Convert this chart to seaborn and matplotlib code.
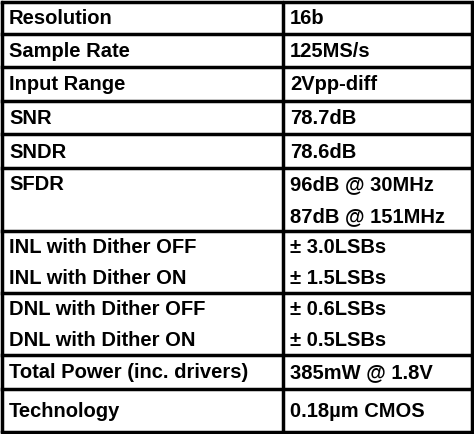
import matplotlib
matplotlib.use("Agg")
import matplotlib.pyplot as plt
import seaborn as sns

# === Table content (each group is one boxed row) ===
params = [["Resolution"], ["Sample Rate"], ["Input Range"], ["SNR"], ["SNDR"],
          ["SFDR", ""], ["INL with Dither OFF", "INL with Dither ON"],
          ["DNL with Dither OFF", "DNL with Dither ON"],
          ["Total Power (inc. drivers)"], ["Technology"]]
values = [["16b"], ["125MS/s"], ["2Vpp-diff"], ["78.7dB"], ["78.6dB"],
          ["96dB @ 30MHz", "87dB @ 151MHz"], ["± 3.0LSBs", "± 1.5LSBs"],
          ["± 0.6LSBs", "± 0.5LSBs"], ["385mW @ 1.8V"], ["0.18µm CMOS"]]
# row boundaries in pixels (top to bottom)
row_edges = [2, 34, 67, 101, 134, 168, 231, 293, 355, 389, 432]

sns.set_style("white")
plt.rcParams['font.family'] = ['Liberation Sans', 'DejaVu Sans']

fig = plt.figure(figsize=(4.74, 4.34), dpi=100)
ax = fig.add_axes([0, 0, 1, 1])
ax.set_xlim(0, 474)
ax.set_ylim(434, 0)
ax.axis("off")

x0, xmid, x1 = 2, 283, 472
lw = 2.5
for y in row_edges:
    ax.plot([x0, x1], [y, y], color="black", lw=lw, solid_capstyle="projecting")
for x in (x0, xmid, x1):
    ax.plot([x, x], [row_edges[0], row_edges[-1]], color="black", lw=lw)

for i, (ps, vs) in enumerate(zip(params, values)):
    top, bot = row_edges[i], row_edges[i + 1]
    n = len(ps)
    step = (bot - top) / n
    for j in range(n):
        yc = top + step * (j + 0.5) + 1
        ax.text(9, yc, ps[j], fontsize=14.5, fontweight="bold", va="center", ha="left", color="black")
        ax.text(290, yc, vs[j], fontsize=14.5, fontweight="bold", va="center", ha="left", color="black")

fig.savefig("out.png", dpi=100, facecolor="white")
